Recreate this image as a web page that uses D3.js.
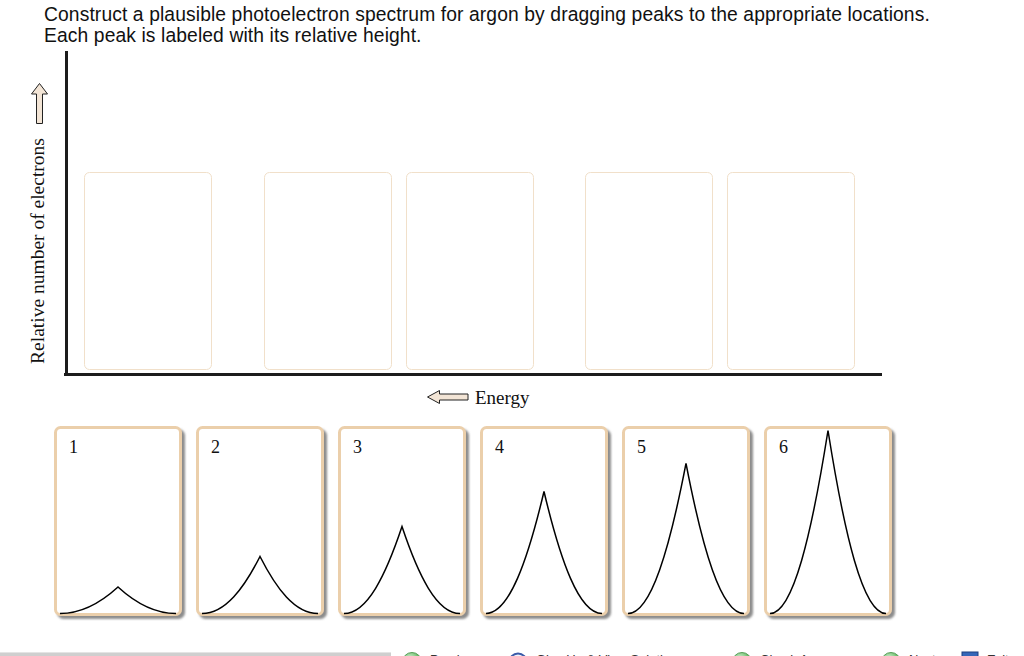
<!DOCTYPE html>
<html><head><meta charset="utf-8">
<script src="https://cdn.jsdelivr.net/npm/d3@7"></script>
<style>html,body{margin:0;padding:0;background:#fff;overflow:hidden} svg{display:block}</style>
</head><body>
<svg id="c" width="1024" height="656"></svg>
<script>
// ---------- data ----------
const titleLines = [
  "Construct a plausible photoelectron spectrum for argon by dragging peaks to the appropriate locations.",
  "Each peak is labeled with its relative height."
];
const yAxisLabel = "Relative number of electrons";
const xAxisLabel = "Energy";
const peakLabels = ["1", "2", "3", "4", "5", "6"];
const peakHeights = [0.87, 1.87, 2.85, 4.0, 4.92, 6.0];
const dropSlots = ["a", "b", "c", "d", "e"];
const buttonLabels = ["Previous", "Give Up & View Solution", "Check Answer", "Next", "Exit"];
const buttonKinds = ["green", "blue", "green", "green", "square"];

// ---------- layout ----------
const slotLeft = [84, 264, 406, 585, 727];
const buttonX = [412, 518, 742, 891, 970];

const svg = d3.select("#c");
const defs = svg.append("defs");
const f = defs.append("filter").attr("id", "sh").attr("x", "-10%").attr("y", "-10%").attr("width", "130%").attr("height", "130%");
f.append("feDropShadow").attr("dx", 3).attr("dy", 3).attr("stdDeviation", 1.2)
  .attr("flood-color", "#6f6f6f").attr("flood-opacity", 0.8);
const gg = defs.append("radialGradient").attr("id", "gg").attr("cx", "40%").attr("cy", "35%");
gg.append("stop").attr("offset", "0%").attr("stop-color", "#e6f6e6");
gg.append("stop").attr("offset", "100%").attr("stop-color", "#5cb85c");

// title
svg.append("g").selectAll("text").data(titleLines).join("text")
  .attr("x", 44).attr("y", (d, i) => 21 + i * 20.5)
  .attr("font-family", "'Liberation Sans', Arial, sans-serif")
  .attr("font-size", 19.3).attr("letter-spacing", 0.1).attr("fill", "#111").text(d => d);

// axes (no ticks)
const x = d3.scaleLinear().domain([0, 1]).range([65, 880]);
const y = d3.scaleLinear().domain([0, 1]).range([374, 52]);
const axStyle = g => {
  g.select(".domain").attr("stroke", "#1c1c1c").attr("stroke-width", 3).attr("stroke-linecap", "square");
  g.selectAll(".tick").remove();
};
svg.append("g").attr("transform", "translate(0,374)")
  .call(d3.axisBottom(x).tickValues([]).tickSizeOuter(0)).call(axStyle);
svg.append("g").attr("transform", "translate(66,0)")
  .call(d3.axisLeft(y).tickValues([]).tickSizeOuter(0)).call(axStyle);

// drop slots
svg.append("g").selectAll("rect").data(dropSlots).join("rect")
  .attr("x", (d, i) => slotLeft[i] + 0.5).attr("y", 172.5)
  .attr("width", 127).attr("height", 197).attr("rx", 5)
  .attr("fill", "#fff").attr("stroke", "#f1e0ca").attr("stroke-width", 1);

// axis labels and arrows
const arrowFill = "#f3e5d6";
svg.append("path")
  .attr("d", "M39.5,83.5 L47.5,94 L42.5,94 L42.5,123.5 L36.5,123.5 L36.5,94 L31.5,94 Z")
  .attr("fill", arrowFill).attr("stroke", "#222").attr("stroke-width", 1);
svg.append("text").attr("transform", "translate(43.5,251) rotate(-90)")
  .attr("text-anchor", "middle")
  .attr("font-family", "'Liberation Serif', 'Times New Roman', serif")
  .attr("font-size", 19.5).attr("fill", "#111").text(yAxisLabel);

svg.append("path")
  .attr("d", "M427.5,397 L439.5,390.5 L439.5,394 L468,394 L468,400 L439.5,400 L439.5,403.5 Z")
  .attr("fill", arrowFill).attr("stroke", "#222").attr("stroke-width", 1);
svg.append("text").attr("x", 475).attr("y", 403.5)
  .attr("font-family", "'Liberation Serif', 'Times New Roman', serif")
  .attr("font-size", 19).attr("fill", "#111").text(xAxisLabel);

// peak cards
const band = d3.scaleBand().domain(peakLabels).range([54, 892]).paddingInner(14 / 142).paddingOuter(0);
const hScale = d3.scaleLinear().domain([0, 6]).range([0, 183]);
const base = 613.5, W = 58;
const cards = svg.append("g").selectAll("g").data(peakLabels).join("g")
  .attr("transform", d => `translate(${band(d)},0)`);
cards.append("rect")
  .attr("x", 1.5).attr("y", 427.5).attr("width", band.bandwidth() - 3).attr("height", 187)
  .attr("rx", 5).attr("fill", "#fff").attr("stroke", "#ebcfab").attr("stroke-width", 3)
  .attr("filter", "url(#sh)");
cards.append("text").attr("x", 15).attr("y", 453)
  .attr("font-family", "'Liberation Serif', 'Times New Roman', serif")
  .attr("font-size", 18).attr("fill", "#111").text(d => d);
cards.append("path")
  .attr("d", (d, i) => {
    const cx = band.bandwidth() / 2, h = hScale(peakHeights[i]), p = d3.path();
    p.moveTo(cx - W, base);
    p.bezierCurveTo(cx - 0.6 * W, base, cx - 0.28 * W, base - 0.44 * h, cx, base - h);
    p.bezierCurveTo(cx + 0.28 * W, base - 0.44 * h, cx + 0.6 * W, base, cx + W, base);
    return p.toString();
  })
  .attr("fill", "none").attr("stroke", "#000").attr("stroke-width", 1.5).attr("stroke-linejoin", "miter");

// clipped button bar at bottom
svg.append("rect").attr("x", 0).attr("y", 652).attr("width", 391).attr("height", 6).attr("fill", "#cfcfcf");
svg.append("line").attr("x1", 0).attr("x2", 391).attr("y1", 652.5).attr("y2", 652.5).attr("stroke", "#e4e4e4");
const btn = svg.append("g").selectAll("g").data(buttonLabels).join("g")
  .attr("transform", (d, i) => `translate(${buttonX[i]},0)`);
btn.filter((d, i) => buttonKinds[i] === "green").append("circle")
  .attr("cx", 0).attr("cy", 662).attr("r", 9.5).attr("fill", "url(#gg)").attr("stroke", "#5a9e5a");
btn.filter((d, i) => buttonKinds[i] === "blue").append("circle")
  .attr("cx", 0).attr("cy", 662).attr("r", 8.5).attr("fill", "#eef2fa").attr("stroke", "#3a5aa8").attr("stroke-width", 2);
btn.filter((d, i) => buttonKinds[i] === "square").append("rect")
  .attr("x", -8).attr("y", 652).attr("width", 16).attr("height", 12).attr("fill", "#3566b8").attr("stroke", "#1d3f80");
btn.append("text").attr("x", (d, i) => buttonKinds[i] === "square" ? 17 : 18).attr("y", 664)
  .attr("font-family", "'Liberation Sans', Arial, sans-serif").attr("font-size", 13).attr("fill", "#333").text(d => d);
</script>
</body></html>
